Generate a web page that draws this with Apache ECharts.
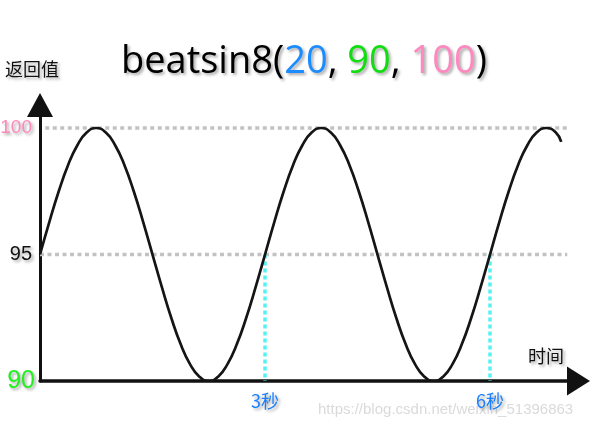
<!DOCTYPE html>
<html><head><meta charset="utf-8">
<script src="https://cdn.jsdelivr.net/npm/echarts@6/dist/echarts.min.js"></script>
<style>html,body{margin:0;padding:0;background:#fff}#c{width:600px;height:429px}</style>
</head><body><div id="c"></div>
<script>
// time (seconds) sampled along the drawn curve
const times = [0,0.125,0.25,0.375,0.5,0.625,0.75,0.875,1,1.125,1.25,1.375,1.5,1.625,1.75,1.875,2,2.125,2.25,2.375,2.5,2.625,2.75,2.875,
  3,3.125,3.25,3.375,3.5,3.625,3.75,3.875,4,4.125,4.25,4.375,4.5,4.625,4.75,4.875,5,5.125,5.25,5.375,5.5,5.625,5.75,5.875,
  6,6.125,6.25,6.375,6.5,6.625,6.75,6.875,6.95];
// return value
const values = [95,96.29,97.5,98.54,99.33,99.83,100,99.83,99.33,98.54,97.5,96.29,95,93.71,92.5,91.46,90.67,90.17,90,90.17,90.67,91.46,92.5,93.71,
  95,96.29,97.5,98.54,99.33,99.83,100,99.83,99.33,98.54,97.5,96.29,95,93.71,92.5,91.46,90.67,90.17,90,90.17,90.67,91.46,92.5,93.71,
  95,96.29,97.5,98.54,99.33,99.83,100,99.83,99.45];
const yTickValues = [90, 95, 100];
const yTickLabels = ['90', '95', '100'];
const xTickValues = [3, 6];
const xTickLabels = ['3秒', '6秒'];
const refLevels = [100, 95];
const refStart = [0.07, 0];
const refEnd = [7.07, 7.03];
const markerTimes = [3, 6];
const markerTop = 95;
const markerBottom = 90;
const titleParts = ['beatsin8(', '20', ', ', '90', ', ', '100', ')'];
const yAxisName = '返回值';
const xAxisName = '时间';
const watermark = 'https://blog.csdn.net/weixin_51396863';

const shadow = {textShadowColor:'rgba(0,0,0,0.35)', textShadowBlur:3, textShadowOffsetX:2, textShadowOffsetY:2};
const yRich = {
  l90: Object.assign({color:'#22ee22', fontSize:25, fontFamily:'Liberation Sans', padding:[0,-2,0,0]}, shadow),
  l95: Object.assign({color:'#111', fontSize:20, fontFamily:'Liberation Sans', padding:[0,1,0,0]}, shadow),
  l100: Object.assign({color:'#ff88bb', fontSize:19, fontFamily:'Liberation Sans', padding:[0,1,0,0]}, shadow)
};
const yStyle = ['l90','l95','l100'];

const series = [];
refLevels.forEach((lv, i) => {
  series.push({type:'line', data:[[refStart[i], lv],[refEnd[i], lv]], showSymbol:false, silent:true, z:1,
    lineStyle:{color:'#c2c2c2', width:3.5, type:[4,3.5]}});
});
markerTimes.forEach(t => {
  series.push({type:'line', data:[[t, markerTop],[t, markerBottom]], showSymbol:false, silent:true, z:2,
    lineStyle:{color:'#55f2f2', width:3.5, type:[4,3]}});
});
series.push({type:'line', data: times.map((t,i)=>[t, values[i]]), smooth:true, showSymbol:false, z:3,
  lineStyle:{color:'#151515', width:2.7}});

const chart = echarts.init(document.getElementById('c'), null, {renderer:'canvas'});
chart.setOption({
  animation:false,
  backgroundColor:'#fff',
  grid:{left:40, right:21.5, top:105, bottom:48, containLabel:false, outerBoundsMode:'none'},
  xAxis:{type:'value', min:0, max:7.18,
    axisLine:{show:true, symbol:['none','triangle'], symbolSize:[29,23], lineStyle:{color:'#111', width:3.5}},
    axisTick:{show:false}, splitLine:{show:false},
    axisLabel:{customValues:xTickValues, margin:11,
      formatter:(v)=>xTickLabels[xTickValues.indexOf(v)] || '',
      color:'#1a7fff', fontSize:18, fontFamily:'Noto Sans CJK SC', ...shadow}},
  yAxis:{type:'value', min:90, max:100.91,
    axisLine:{show:true, symbol:['none','triangle'], symbolSize:[26,24], lineStyle:{color:'#111', width:3}},
    axisTick:{show:false}, splitLine:{show:false},
    axisLabel:{customValues:yTickValues, margin:7,
      formatter:(v)=>{const k=yTickValues.indexOf(v); return k<0?'':'{'+yStyle[k]+'|'+yTickLabels[k]+'}';},
      rich:yRich}},
  graphic:[
    {type:'text', left:121, top:43, style:{
      text:'{k|'+titleParts[0]+'}{b|'+titleParts[1]+'}{k|'+titleParts[2]+'}{g|'+titleParts[3]+'}{k|'+titleParts[4]+'}{p|'+titleParts[5]+'}{k|'+titleParts[6]+'}',
      rich:{
        k:Object.assign({fill:'#000', fontSize:38, fontFamily:'Open Sans'}, shadow),
        b:Object.assign({fill:'#1a8cff', fontSize:38, fontFamily:'Open Sans'}, shadow),
        g:Object.assign({fill:'#11dd11', fontSize:38, fontFamily:'Open Sans'}, shadow),
        p:Object.assign({fill:'#ff88c0', fontSize:38, fontFamily:'Open Sans'}, shadow)
      }}},
    {type:'text', left:5, top:60, style:Object.assign({text:yAxisName, fill:'#111', fontSize:18, fontFamily:'Noto Sans CJK SC'}, shadow)},
    {type:'text', left:528, top:347, style:Object.assign({text:xAxisName, fill:'#111', fontSize:18, fontFamily:'Noto Sans CJK SC'}, shadow)},
    {type:'text', left:318, top:402, style:{text:watermark, fill:'#dadada', fontSize:15, fontFamily:'Liberation Sans'}}
  ],
  series:series
});
</script></body></html>
